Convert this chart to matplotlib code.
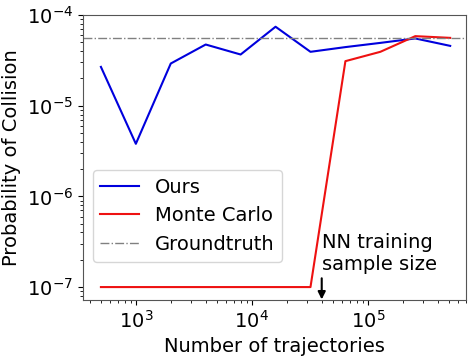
import matplotlib
matplotlib.use("Agg")
import matplotlib.pyplot as plt

# trajectories sampled
n_traj = [500, 1000, 2000, 4000, 8000, 16000, 32000, 64000, 128000, 256000, 512000]

# estimated collision probabilities
ours = [2.68e-5, 3.8e-6, 2.92e-5, 4.73e-5, 3.67e-5, 7.43e-5, 3.93e-5,
        4.43e-5, 4.93e-5, 5.52e-5, 4.57e-5]
monte_carlo = [1e-7, 1e-7, 1e-7, 1e-7, 1e-7, 1e-7, 1e-7,
               3.1e-5, 3.93e-5, 5.85e-5, 5.6e-5]
groundtruth = 5.55e-5

nn_train_size = 40000

fig, ax = plt.subplots(figsize=(4.74, 3.58), dpi=100)

ax.plot(n_traj, ours, color='#0000dd', linewidth=1.5, label='Ours')
ax.plot(n_traj, monte_carlo, color='#ee1111', linewidth=1.5, label='Monte Carlo')
ax.axhline(groundtruth, color='gray', linestyle='-.', linewidth=1.0, label='Groundtruth')

# vertical arrow marking the NN training set size
ax.annotate('', xy=(nn_train_size, 7.3e-8), xytext=(nn_train_size, 1.25e-7),
            arrowprops=dict(arrowstyle='-|>', color='black', lw=1.5,
                            shrinkA=0, shrinkB=0, mutation_scale=11))
ax.text(nn_train_size, 1.38e-7, 'NN training\nsample size', fontsize=14,
        ha='left', va='bottom')

ax.set_xscale('log')
ax.set_yscale('log')
ax.set_xlim(350, 7e5)
ax.set_ylim(7.2e-8, 1e-4)

ax.set_xlabel('Number of trajectories', fontsize=14)
ax.set_ylabel('Probability of Collision', fontsize=14)
ax.tick_params(labelsize=14)

for s in ax.spines.values():
    s.set_color('#555555')

ax.legend(fontsize=14, loc='lower left', bbox_to_anchor=(0.0, 0.1))

fig.subplots_adjust(left=0.175, right=0.983, top=0.958, bottom=0.162)
fig.savefig('out.png', dpi=100)
